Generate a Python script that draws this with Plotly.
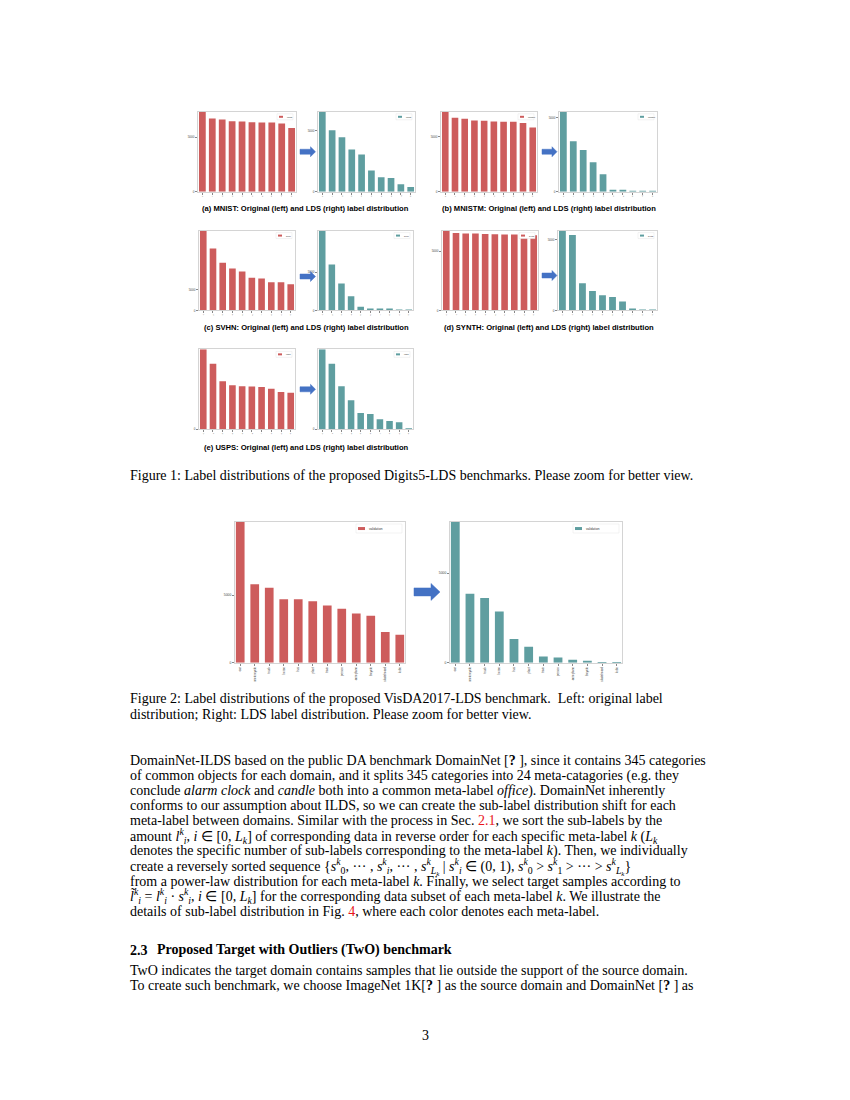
import plotly.graph_objects as go

# page is 850x1100; the html body adds an 8px margin, so the figure is 834x1084 at (8, 8)
PAGE_OFF = 8
W, H = 850 - 2 * PAGE_OFF, 1100 - 2 * PAGE_OFF

# ---------------- data ----------------
mnist_labels = ["1", "7", "3", "2", "9", "0", "6", "8", "4", "5"]
mnist_orig = [7362, 6749, 6657, 6503, 6473, 6411, 6381, 6381, 6289, 5859]
mnist_lds = [6538, 5027, 4450, 3461, 3049, 1731, 1181, 1126, 604, 385]

mnistm_labels = ["1", "7", "3", "2", "9", "0", "6", "8", "4", "5"]
mnistm_orig = [7301, 6749, 6657, 6503, 6473, 6411, 6381, 6381, 6289, 5859]
mnistm_lds = [5409, 3409, 2818, 2000, 1182, 136, 114, 45, 23, 23]

svhn_labels = ["1", "2", "3", "4", "5", "6", "7", "8", "0", "9"]
svhn_orig = [19048, 14762, 11349, 10000, 9286, 7778, 7619, 6746, 6746, 6270]
svhn_lds = [10435, 6000, 3522, 1870, 478, 217, 130, 130, 22, 13]

synth_labels = ["0", "1", "2", "3", "4", "5", "6", "7", "8", "9"]
synth_orig = [6741, 6544, 6488, 6488, 6460, 6432, 6404, 6404, 6376, 6348]
synth_lds = [5667, 5357, 1929, 1381, 1071, 952, 643, 95, 24, 7]

usps_labels = ["0", "1", "2", "6", "3", "4", "7", "9", "5", "8"]
usps_orig = [1194, 980, 716, 657, 642, 637, 632, 607, 557, 547]
usps_lds = [1194, 980, 642, 433, 244, 229, 149, 124, 104, 10]

visda_labels = ["car", "motorcycle", "truck", "horse", "bus", "plant", "train",
                "person", "aeroplane", "bicycle", "skateboard", "knife"]
visda_orig = [10401, 5796, 5548, 4691, 4690, 4549, 4236, 4000, 3646, 3475, 2281, 2075]
visda_lds = [7844, 3848, 3606, 2862, 1320, 892, 353, 297, 167, 112, 37, 19]

digit_ticks = [0, 5000]
usps_ticks = [0]
visda_ticks = [0, 5000]

sub_captions = [
    "(a) MNIST: Original (left) and LDS (right) label distribution",
    "(b) MNISTM: Original (left) and LDS (right) label distribution",
    "(c) SVHN: Original (left) and LDS (right) label distribution",
    "(d) SYNTH: Original (left) and LDS (right) label distribution",
    "(e) USPS: Original (left) and LDS (right) label distribution",
]

fig1_caption = "Figure 1: Label distributions of the proposed Digits5-LDS benchmarks. Please zoom for better view."
fig2_caption = [
    "Figure 2: Label distributions of the proposed VisDA2017-LDS benchmark.  Left: original label",
    "distribution; Right: LDS label distribution. Please zoom for better view.",
]

body_lines = [
    "DomainNet-ILDS based on the public DA benchmark DomainNet [<b>?</b> ], since it contains 345 categories",
    "of common objects for each domain, and it splits 345 categories into 24 meta-catagories (e.g. they",
    "conclude <i>alarm clock</i> and <i>candle</i> both into a common meta-label <i>office</i>). DomainNet inherently",
    "conforms to our assumption about ILDS, so we can create the sub-label distribution shift for each",
    "meta-label between domains. Similar with the process in Sec. <span style='color:#e8141c'>2.1</span>, we sort the sub-labels by the",
    "amount <i>l</i><sup><i>k</i></sup><sub><i>i</i></sub>, <i>i</i> ∈ [0, <i>L</i><sub><i>k</i></sub>] of corresponding data in reverse order for each specific meta-label <i>k</i> (<i>L</i><sub><i>k</i></sub>",
    "denotes the specific number of sub-labels corresponding to the meta-label <i>k</i>). Then, we individually",
    "create a reversely sorted sequence {<i>s</i><sup><i>k</i></sup><sub>0</sub>, ··· , <i>s</i><sup><i>k</i></sup><sub><i>i</i></sub>, ··· , <i>s</i><sup><i>k</i></sup><sub><i>L<sub>k</sub></i></sub> | <i>s</i><sup><i>k</i></sup><sub><i>i</i></sub> ∈ (0, 1), <i>s</i><sup><i>k</i></sup><sub>0</sub> &gt; <i>s</i><sup><i>k</i></sup><sub>1</sub> &gt; ··· &gt; <i>s</i><sup><i>k</i></sup><sub><i>L<sub>k</sub></i></sub>}",
    "from a power-law distribution for each meta-label <i>k</i>. Finally, we select target samples according to",
    "<i>l̃</i><sup><i>k</i></sup><sub><i>i</i></sub> = <i>l</i><sup><i>k</i></sup><sub><i>i</i></sub> · <i>s</i><sup><i>k</i></sup><sub><i>i</i></sub>, <i>i</i> ∈ [0, <i>L</i><sub><i>k</i></sub>] for the corresponding data subset of each meta-label <i>k</i>. We illustrate the",
    "details of sub-label distribution in Fig. <span style='color:#e8141c'>4</span>, where each color denotes each meta-label.",
]
heading_num = "2.3"
heading_text = "Proposed Target with Outliers (TwO) benchmark"
tail_lines = [
    "TwO indicates the target domain contains samples that lie outside the support of the source domain.",
    "To create such benchmark, we choose ImageNet 1K[<b>?</b> ] as the source domain and DomainNet [<b>?</b> ] as",
]
page_number = "3"

# ---------------- layout helpers ----------------
RED = "#CD5C5C"
TEAL = "#5F9EA0"
ARROW = "#4472C4"
FRAME = "#d4d4d4"
SERIF = "Liberation Serif"
SANS = "Liberation Sans"


def px(x):
    return (x - PAGE_OFF) / W


def py(y):
    return 1 - (y - PAGE_OFF) / H


fig = go.Figure()
layout_axes = {}
shapes = []
annotations = []

# panels: (labels, values, color, ticks, legend name, box(x0,x1,ytop,ybot), big)
panels = [
    (mnist_labels, mnist_orig, RED, digit_ticks, "mnist", (198, 296, 112, 192), False),
    (mnist_labels, mnist_lds, TEAL, digit_ticks, "mnist", (318, 415, 112, 192), False),
    (mnistm_labels, mnistm_orig, RED, digit_ticks, "mnistm", (441, 537, 112, 192), False),
    (mnistm_labels, mnistm_lds, TEAL, digit_ticks, "mnistm", (559, 657, 112, 192), False),
    (svhn_labels, svhn_orig, RED, digit_ticks, "svhn", (199, 295, 231, 311), False),
    (svhn_labels, svhn_lds, TEAL, digit_ticks, "svhn", (318, 413, 231, 311), False),
    (synth_labels, synth_orig, RED, digit_ticks, "synth", (442, 538, 231, 311), False),
    (synth_labels, synth_lds, TEAL, digit_ticks, "synth", (558, 657, 231, 311), False),
    (usps_labels, usps_orig, RED, usps_ticks, "usps", (199, 295, 350, 430), False),
    (usps_labels, usps_lds, TEAL, usps_ticks, "usps", (318, 413, 350, 430), False),
    (visda_labels, visda_orig, RED, visda_ticks, "validation", (235, 405, 523, 664), True),
    (visda_labels, visda_lds, TEAL, visda_ticks, "validation", (450, 622, 523, 664), True),
]

for i, (labels, vals, color, ticks, lname, box, big) in enumerate(panels, start=1):
    x0, x1, yt, yb = box
    xa = "x" if i == 1 else f"x{i}"
    ya = "y" if i == 1 else f"y{i}"
    n = len(labels)
    pad = 0.36 if big else 0.44
    fig.add_trace(go.Bar(
        x=labels, y=vals, xaxis=xa, yaxis=ya,
        marker=dict(color=color, line=dict(width=0)),
        width=0.6 if big else 0.68,
        showlegend=False, hoverinfo="x+y",
    ))
    xkey = "xaxis" if i == 1 else f"xaxis{i}"
    ykey = "yaxis" if i == 1 else f"yaxis{i}"
    layout_axes[xkey] = dict(
        domain=[px(x0), px(x1)], anchor=ya, type="category",
        range=[-pad, n - 1 + pad],
        showline=True, mirror=True, linecolor=FRAME, linewidth=1,
        showgrid=False, zeroline=False,
        ticks="outside", ticklen=2, tickcolor="#888", tickwidth=0.5,
        tickangle=-90, tickfont=dict(size=3 if big else 2.2, color="#444", family=SANS),
    )
    layout_axes[ykey] = dict(
        domain=[py(yb), py(yt)], anchor=xa,
        range=[0, max(vals)],
        showline=True, mirror=True, linecolor=FRAME, linewidth=1,
        showgrid=False, zeroline=False,
        tickmode="array", tickvals=ticks, ticktext=[str(t) for t in ticks],
        ticks="outside", ticklen=2, tickcolor="#888", tickwidth=0.5,
        tickfont=dict(size=3.4 if big else 3, color="#444", family=SANS),
    )
    # small legend box (patch + text) in top right corner
    if big:
        lw, lh = 46, 9
        patch_w, patch_h, fsz = 7, 3, 3.2
    else:
        lw, lh = 16, 6
        patch_w, patch_h, fsz = 4, 2, 2.2
    lx1 = x1 - 3
    lx0 = lx1 - lw
    ly0 = yt + 2
    ly1 = ly0 + lh
    shapes.append(dict(type="rect", xref="paper", yref="paper",
                       x0=px(lx0), x1=px(lx1), y0=py(ly1), y1=py(ly0),
                       line=dict(color="#e6e6e6", width=0.5), fillcolor="white"))
    cy = (ly0 + ly1) / 2
    shapes.append(dict(type="rect", xref="paper", yref="paper",
                       x0=px(lx0 + 2), x1=px(lx0 + 2 + patch_w),
                       y0=py(cy + patch_h / 2), y1=py(cy - patch_h / 2),
                       line=dict(width=0), fillcolor=color))
    annotations.append(dict(xref="paper", yref="paper", x=px(lx0 + 4 + patch_w), y=py(cy),
                            xanchor="left", yanchor="middle", showarrow=False,
                            text=lname, font=dict(size=fsz, color="#333", family=SANS)))

fig.update_layout(**layout_axes)


# block arrows
def arrow_path(xa, xb, yc, shaft, head, head_x):
    pts = [
        (xa, yc - shaft / 2), (head_x, yc - shaft / 2), (head_x, yc - head / 2),
        (xb, yc), (head_x, yc + head / 2), (head_x, yc + shaft / 2), (xa, yc + shaft / 2),
    ]
    d = "M " + " L ".join(f"{px(x):.5f},{py(y):.5f}" for x, y in pts) + " Z"
    return d


arrows = [
    (300, 315.5, 152, 5, 10, 310.5),
    (542, 557, 152, 5, 10, 552),
    (300, 315.5, 277, 5, 10, 310.5),
    (542, 557, 276, 5, 10, 552),
    (300, 315.5, 390, 5, 10, 310.5),
    (414, 440, 593, 8, 17, 431),
]
for a in arrows:
    shapes.append(dict(type="path", xref="paper", yref="paper", path=arrow_path(*a),
                       fillcolor=ARROW, line=dict(color=ARROW, width=0.5)))

# sub captions
cap_pos = [(305, 209), (549, 209), (306, 328), (549, 328), (306, 448)]
for txt, (cx, cy) in zip(sub_captions, cap_pos):
    annotations.append(dict(xref="paper", yref="paper", x=px(cx), y=py(cy),
                            xanchor="center", yanchor="middle", showarrow=False,
                            text=f"<b>{txt}</b>", font=dict(size=7.6, color="black", family=SANS)))

TXT = dict(size=14, color="black", family=SERIF)
LEFT = 128


def add_line(text, x, y, font=TXT):
    annotations.append(dict(xref="paper", yref="paper", x=px(x), y=py(y),
                            xanchor="left", yanchor="middle", showarrow=False,
                            text=text, font=font))


add_line(fig1_caption, LEFT, 476)
add_line(fig2_caption[0], LEFT, 700)
add_line(fig2_caption[1], LEFT, 716)

body_y0, body_dy = 762, 15.1
for k, line in enumerate(body_lines):
    add_line(line, LEFT, body_y0 + k * body_dy)

add_line(f"<b>{heading_num}</b>", LEFT, 952)
add_line(f"<b>{heading_text}</b>", LEFT + 27, 952)
add_line(tail_lines[0], LEFT, 972)
add_line(tail_lines[1], LEFT, 987)
annotations.append(dict(xref="paper", yref="paper", x=px(425), y=py(1037),
                        xanchor="center", yanchor="middle", showarrow=False,
                        text=page_number, font=TXT))

fig.update_layout(
    width=W, height=H,
    margin=dict(l=0, r=0, t=0, b=0),
    paper_bgcolor="white", plot_bgcolor="white",
    showlegend=False, bargap=0.3,
    shapes=shapes, annotations=annotations,
)

fig.write_html("out.html")
